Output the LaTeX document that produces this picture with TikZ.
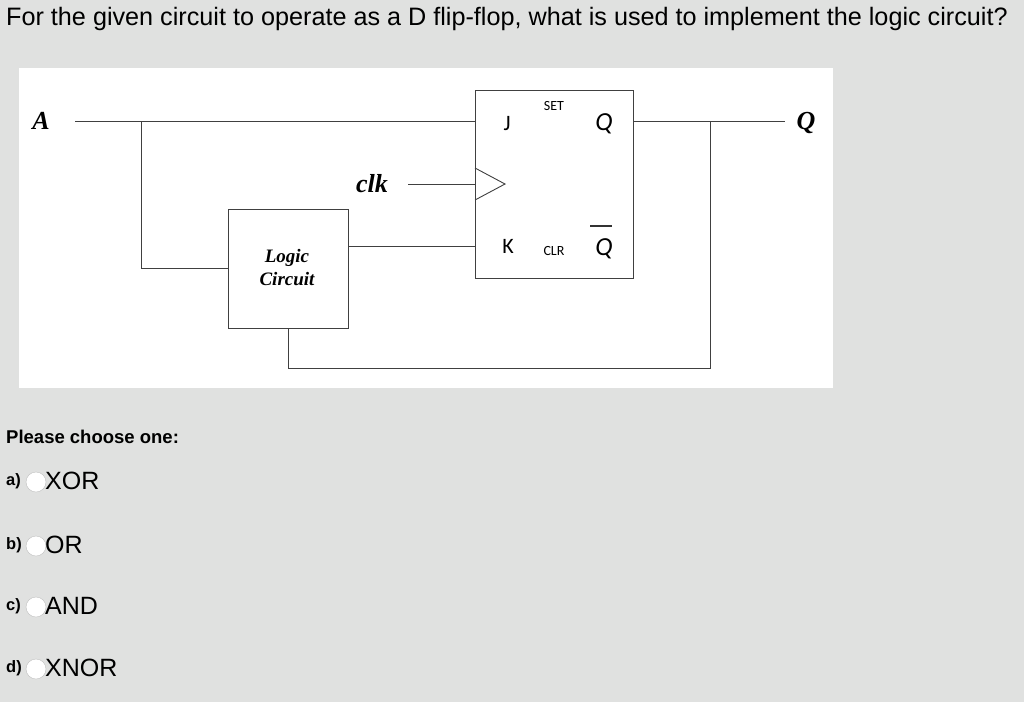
\documentclass[tikz,border=0pt]{standalone}
\usepackage{fontspec}
\setmainfont{Liberation Sans}
\newfontfamily\tms{Liberation Serif}
\newfontfamily\calfam{Carlito}
\begin{document}
\begin{tikzpicture}[x=1pt,y=-1pt,
  w/.style={draw=black!75,line width=0.9pt},
  lab/.style={inner sep=0pt},
  it/.style={lab,font=\tms\bfseries\itshape\fontsize{26}{28}\selectfont},
  ff/.style={lab,font=\calfam\fontsize{22}{24}\selectfont},
  opt/.style={lab,anchor=west,font=\fontsize{25}{28}\selectfont},
  ol/.style={lab,anchor=west,font=\bfseries\fontsize{16.5}{18}\selectfont},
  rad/.style={circle,fill=white,draw=black!25,minimum size=20pt,inner sep=0pt}]
\fill[fill={rgb,255:red,224;green,225;blue,224}] (0,0) rectangle (1024,702);
\useasboundingbox (0,0) rectangle (1024,702);
\fill[white] (19,68) rectangle (833,388);
\node[lab,anchor=west,font=\fontsize{25.2}{28}\selectfont] (title) at (6,19) {For the given circuit to operate as a D flip-flop, what is used to implement the logic circuit?};
% flip-flop
\node[w,fill=white,minimum width=158pt,minimum height=188pt,inner sep=0pt] (ff) at (554,184) {};
\node[lab,font=\calfam\fontsize{14}{15}\selectfont] (set) at (554,106) {SET};
\node[lab,font=\calfam\fontsize{14}{15}\selectfont] (clr) at (554,251) {CLR};
\node[ff] (j) at (507,124) {J};
\node[ff] (k) at (508,246) {K};
\node[ff,font=\calfam\itshape\fontsize{26}{28}\selectfont] (q) at (604,124) {Q};
\node[ff,font=\calfam\itshape\fontsize{26}{28}\selectfont] (qb) at (604,249) {Q};
\draw[black!80,line width=1.2pt] (590,226) -- (612,226);
\coordinate (tri1) at (475,168);\coordinate (tri2) at (505,184);\coordinate (tri3) at (475,200);
\draw[w] (tri1) -- (tri2) -- (tri3);
% logic
\node[w,fill=white,minimum width=120pt,minimum height=119pt,inner sep=0pt] (lc) at (288,268.5) {};
\node[it,font=\tms\bfseries\itshape\fontsize{19}{21}\selectfont,align=center] (lct) at (287,268) {Logic\\[2pt]Circuit};
% labels
\node[it] (A) at (41,121) {A};
\node[it] (Qo) at (806,123) {Q};
\node[it] (clk) at (372,184) {clk};
\coordinate (a1) at (75,121); \coordinate (br) at (141,121); \coordinate (br2) at (141,268);
\coordinate (fj) at (475,121);
\draw[w] (a1) -- (fj);
\draw[w] (br) -- (br2) -- (lc.west |- br2);
\coordinate (fk) at (475,246);
\draw[w] (lc.east |- fk) -- (fk);
\coordinate (ck) at (408,184); \coordinate (ck2) at (475,184);
\draw[w] (ck) -- (ck2);
\coordinate (qs) at (633,121); \coordinate (qe) at (785,121); \coordinate (fb) at (710,121);
\draw[w] (qs) -- (qe);
\coordinate (fb2) at (710,368); \coordinate (lb) at (288,368);
\draw[w] (fb) -- (fb2) -- (lb) -- (lc.south);
% options
\node[lab,anchor=west,font=\bfseries\fontsize{18.5}{20}\selectfont] (pc) at (6,437) {Please choose one:};
\foreach \l/\t/\y in {a/XOR/481,b/OR/545,c/AND/606,d/XNOR/668}{
  \node[ol] (l\l) at (6,\y) {\l)};
  \node[rad] (r\l) at (36,\y+1) {};
  \node[opt] (o\l) at (45,\y) {\t};
}
\end{tikzpicture}
\end{document}
